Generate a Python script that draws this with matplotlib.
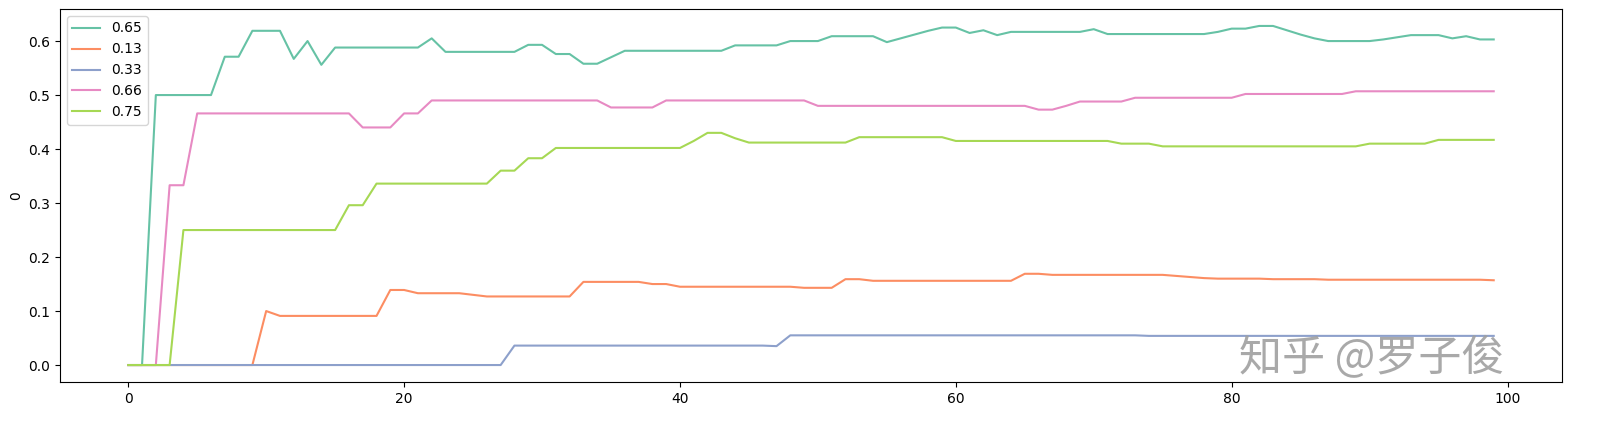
import matplotlib
matplotlib.use("Agg")
import matplotlib.pyplot as plt
import seaborn as sns

x = list(range(100))
labels = ["0.65", "0.13", "0.33", "0.66", "0.75"]
s065 = [0,0,.5,.5,.5,.5,.5,.571,.571,.619,
        .619,.619,.567,.6,.556,.588,.588,.588,.588,.588,
        .588,.588,.605,.58,.58,.58,.58,.58,.58,.593,
        .593,.576,.576,.558,.558,.57,.582,.582,.582,.582,
        .582,.582,.582,.582,.592,.592,.592,.592,.6,.6,
        .6,.609,.609,.609,.609,.598,.605,.612,.619,.625,
        .625,.615,.62,.611,.617,.617,.617,.617,.617,.617,
        .622,.613,.613,.613,.613,.613,.613,.613,.613,.617,
        .623,.623,.628,.628,.62,.612,.605,.6,.6,.6,
        .6,.603,.607,.611,.611,.611,.605,.609,.603,.603]
s013 = [0,0,0,0,0,0,0,0,0,0,
        .1,.091,.091,.091,.091,.091,.091,.091,.091,.139,
        .139,.133,.133,.133,.133,.13,.127,.127,.127,.127,
        .127,.127,.127,.154,.154,.154,.154,.154,.15,.15,
        .145,.145,.145,.145,.145,.145,.145,.145,.145,.143,
        .143,.143,.159,.159,.156,.156,.156,.156,.156,.156,
        .156,.156,.156,.156,.156,.169,.169,.167,.167,.167,
        .167,.167,.167,.167,.167,.167,.165,.163,.161,.16,
        .16,.16,.16,.159,.159,.159,.159,.158,.158,.158,
        .158,.158,.158,.158,.158,.158,.158,.158,.158,.157]
s033 = [0,0,0,0,0,0,0,0,0,0,
        0,0,0,0,0,0,0,0,0,0,
        0,0,0,0,0,0,0,0,.036,.036,
        .036,.036,.036,.036,.036,.036,.036,.036,.036,.036,
        .036,.036,.036,.036,.036,.036,.036,.035,.055,.055,
        .055,.055,.055,.055,.055,.055,.055,.055,.055,.055,
        .055,.055,.055,.055,.055,.055,.055,.055,.055,.055,
        .055,.055,.055,.055,.054,.054,.054,.054,.054,.054,
        .054,.054,.054,.054,.054,.054,.054,.054,.054,.054,
        .054,.054,.054,.054,.054,.054,.054,.054,.054,.054]
s066 = [0,0,0,.333,.333,.466,.466,.466,.466,.466,
        .466,.466,.466,.466,.466,.466,.466,.44,.44,.44,
        .466,.466,.49,.49,.49,.49,.49,.49,.49,.49,
        .49,.49,.49,.49,.49,.477,.477,.477,.477,.49,
        .49,.49,.49,.49,.49,.49,.49,.49,.49,.49,
        .48,.48,.48,.48,.48,.48,.48,.48,.48,.48,
        .48,.48,.48,.48,.48,.48,.473,.473,.48,.488,
        .488,.488,.488,.495,.495,.495,.495,.495,.495,.495,
        .495,.502,.502,.502,.502,.502,.502,.502,.502,.507,
        .507,.507,.507,.507,.507,.507,.507,.507,.507,.507]
s075 = [0,0,0,0,.25,.25,.25,.25,.25,.25,
        .25,.25,.25,.25,.25,.25,.296,.296,.336,.336,
        .336,.336,.336,.336,.336,.336,.336,.36,.36,.383,
        .383,.402,.402,.402,.402,.402,.402,.402,.402,.402,
        .402,.415,.43,.43,.42,.412,.412,.412,.412,.412,
        .412,.412,.412,.422,.422,.422,.422,.422,.422,.422,
        .415,.415,.415,.415,.415,.415,.415,.415,.415,.415,
        .415,.415,.41,.41,.41,.405,.405,.405,.405,.405,
        .405,.405,.405,.405,.405,.405,.405,.405,.405,.405,
        .41,.41,.41,.41,.41,.417,.417,.417,.417,.417]
series = [s065, s013, s033, s066, s075]

plt.rcParams["font.size"] = 10
colors = sns.color_palette("Set2", 5)
fig = plt.figure(figsize=(16.21, 4.28), dpi=100)
ax = fig.add_axes([0.037, 0.1075, 0.9266, 0.8715])
for lab, s, c in zip(labels, series, colors):
    ax.plot(x, s, color=c, label=lab, linewidth=1.5)
ax.set_ylabel("0")
ax.legend(loc="upper left")
ax.text(0.785, 0.03, "知乎 @罗子俊", transform=ax.transAxes, fontsize=31,
        color="#a0a0a0", family=["Noto Sans CJK SC", "DejaVu Sans"], alpha=0.9)
fig.savefig("out.png", dpi=100)
